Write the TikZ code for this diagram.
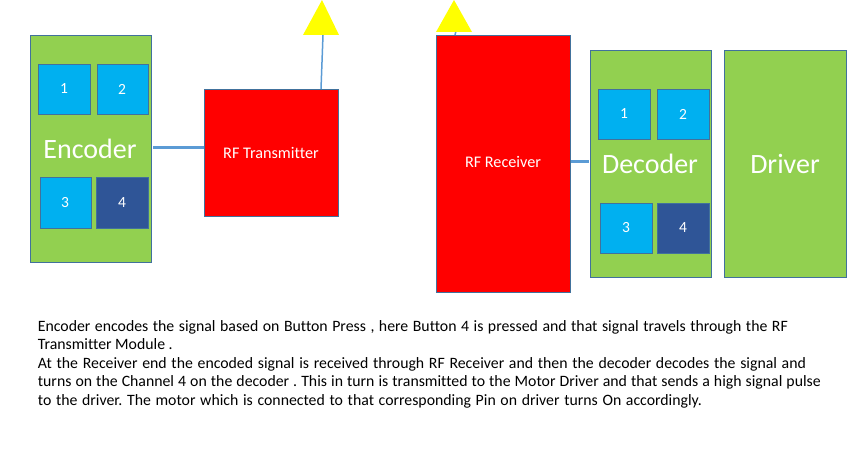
\documentclass[tikz,border=0pt]{standalone}
\usepackage{fontspec}
\setmainfont{Carlito}[Ligatures=NoCommon]
\frenchspacing
\definecolor{boxgreen}{HTML}{92D050}
\definecolor{btnblue}{HTML}{00B0F0}
\definecolor{btndark}{HTML}{2F5597}
\definecolor{edge}{HTML}{41719C}
\definecolor{wire}{HTML}{5B9BD5}
\definecolor{rfred}{HTML}{FF0000}
\definecolor{ant}{HTML}{FFFF00}
\tikzset{
  x=1pt, y=-1pt,
  gbox/.style={draw=edge, line width=0.8pt, fill=boxgreen},
  btn/.style={draw=edge, line width=0.8pt, fill=btnblue},
  btnon/.style={draw=edge, line width=0.8pt, fill=btndark},
  rfbox/.style={draw=edge, line width=0.8pt, fill=rfred},
  btnlabel/.style={text=white, font=\fontsize{15.5}{17}\selectfont},
  biglabel/.style={text=white, font=\fontsize{28}{32}\selectfont},
  rflabel/.style={text=white, font=\fontsize{16.2}{18}\selectfont},
  wireline/.style={draw=wire, line width=3pt},
  mast/.style={draw=wire, line width=1.5pt},
  antenna/.style={fill=ant, draw=none},
  para/.style={anchor=base west, inner sep=0pt, font=\fontsize{15.8}{18}\selectfont}
}
\begin{document}
\begin{tikzpicture}
\useasboundingbox (0,0) rectangle (854,476);
% Encoder
\draw[gbox] (30,35) rectangle (151,262);
\draw[btn] (38,64) rectangle (90,114); \node[btnlabel] (e1) at (64,89) {1};
\draw[btn] (97,64) rectangle (148,114); \node[btnlabel] (e2) at (122,89) {2};
\draw[btn] (40,177) rectangle (91,228); \node[btnlabel] (e3) at (65,203) {3};
\draw[btnon] (96,177) rectangle (148,228); \node[btnlabel] (e4) at (122,203) {4};
\node[biglabel] (enc) at (90,149) {Encoder};
% RF Transmitter
\draw[rfbox] (204,89) rectangle (338,216);
\node[rflabel] (tx) at (271,153) {RF Transmitter};
\coordinate (encE) at (153,148);
\coordinate (txW) at (204,148);
\coordinate (txTop) at (321,89);
\coordinate (ant1) at (323,35);
\draw[wireline] (encE) -- (txW);
\draw[mast] (txTop) -- (ant1);
\fill[antenna] (303,35) -- (339,35) -- (322,0) -- cycle;
% RF Receiver
\draw[rfbox] (436,35) rectangle (570,292);
\node[rflabel] (rx) at (503,162) {RF Receiver};
\coordinate (rxTop) at (455,35);
\coordinate (ant2) at (456,31);
\draw[mast] (rxTop) -- (ant2);
\fill[antenna] (436,32) -- (472,32) -- (454,0) -- cycle;
% Decoder
\draw[gbox] (590,50) rectangle (711,277);
\draw[btn] (598,89) rectangle (650,139); \node[btnlabel] (d1) at (624,114) {1};
\draw[btn] (657,89) rectangle (709,139); \node[btnlabel] (d2) at (683,114) {2};
\draw[btn] (600,203) rectangle (652,253); \node[btnlabel] (d3) at (626,228) {3};
\draw[btnon] (657,203) rectangle (709,253); \node[btnlabel] (d4) at (683,228) {4};
\node[biglabel] (dec) at (650,164) {Decoder};
\coordinate (rxE) at (571,162);
\coordinate (decW) at (589,162);
\draw[wireline] (rxE) -- (decW);
% Driver
\draw[gbox] (724,50) rectangle (846,277);
\node[biglabel] (drv) at (785,164) {Driver};
% Description
\node[para] (p1) at (37.7,331) {\makebox[750pt][s]{Encoder encodes the signal based on Button Press , here Button 4 is pressed and that signal travels through the RF}};
\node[para] (p2) at (37.7,349.5) {Transmitter Module .};
\node[para] (p3) at (37.7,368) {\makebox[768pt][s]{At the Receiver end the encoded signal is received through RF Receiver and then the decoder decodes the signal and}};
\node[para] (p4) at (37.7,386.5) {\makebox[783pt][s]{turns on the Channel 4 on the decoder . This in turn is transmitted to the Motor Driver and that sends a high signal pulse}};
\node[para] (p5) at (37.7,405) {\makebox[664pt][s]{to the driver. The motor which is connected to that corresponding Pin on driver turns On accordingly.}};
\end{tikzpicture}
\end{document}
